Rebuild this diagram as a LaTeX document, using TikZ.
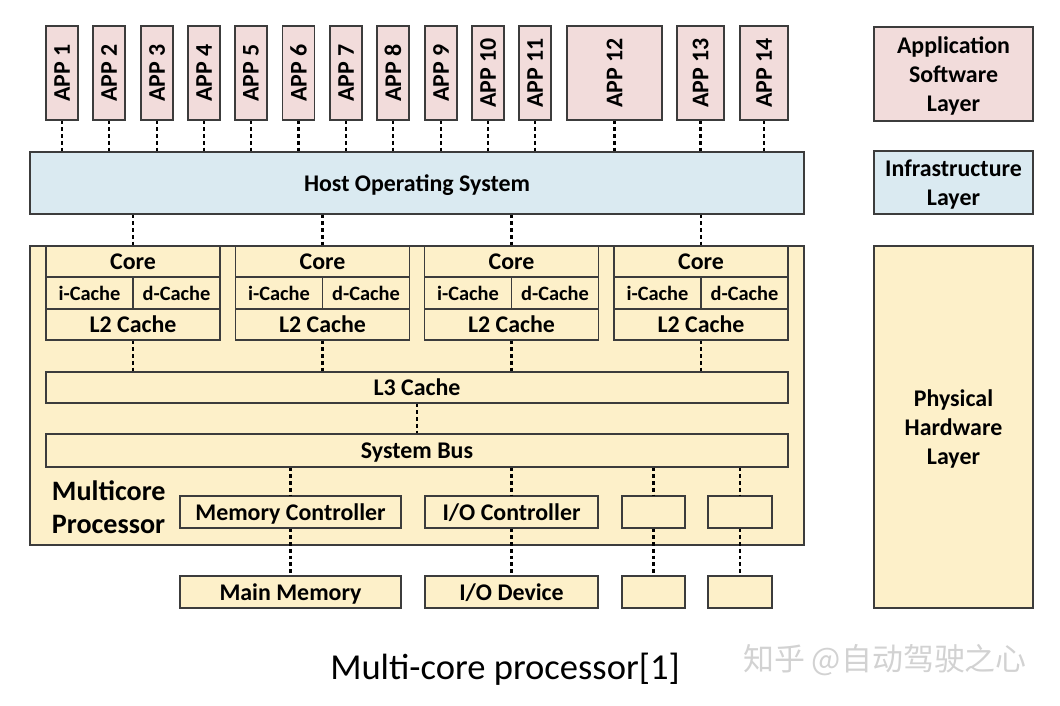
\documentclass[tikz,border=0pt]{standalone}
\usepackage{fontspec}
\usepackage{graphicx}
\setmainfont{Carlito}
\newfontfamily\cjk{Noto Sans CJK SC}
\usetikzlibrary{positioning,calc}
\definecolor{appcol} {RGB}{242,220,219}
\definecolor{oscol}  {RGB}{218,234,241}
\definecolor{hwcol}  {RGB}{253,240,201}
\definecolor{edgecol}{RGB}{60,60,60}

\begin{document}
\begin{tikzpicture}[x=0.025cm,y=-0.025cm,
  box/.style ={rectangle,draw=edgecol,line width=0.9pt,inner sep=0pt,align=center,
               text depth=0pt,font=\bfseries\fontsize{17}{20.6}\selectfont},
  napp/.style={box,fill=appcol,minimum width=#1,minimum height=2.35cm},
  napp/.default=0.8cm,
  nos/.style ={box,fill=oscol},
  nhw/.style ={box,fill=hwcol},
  nlay/.style={box,minimum width=3.975cm},
  ncore/.style={nhw,minimum width=4.35cm,minimum height=0.775cm},
  ncache/.style={nhw,minimum width=2.175cm,minimum height=0.8cm,
               font=\bfseries\fontsize{14.5}{17}\selectfont},
  nwide/.style={nhw,minimum width=18.55cm},
  nio/.style ={nhw,minimum height=0.8cm},
  conn/.style={black,line width=1.6pt,dash pattern=on 2.6pt off 2.2pt}
]
\useasboundingbox (0,0) rectangle (1060,705);
% application layer
\foreach \i/\px in {1/62,2/109,3/157,4/204,5/251,6/298.5,7/346,8/393,9/441,10/488,11/535}
  \node[napp] (a\i) at (\px,73) {\rotatebox{90}{APP \i}};
\node[napp=2.375cm] (a12) at (614.5,73) {\rotatebox{90}{APP 12}};
\node[napp=1.175cm] (a13) at (700.5,73) {\rotatebox{90}{APP 13}};
\node[napp=1.2cm]   (a14) at (764,73)   {\rotatebox{90}{APP 14}};
% host os
\node[nos,minimum width=19.35cm,minimum height=1.55cm] (host) at (417,183) {Host Operating System};
\foreach \i in {1,...,14}
  \draw[conn] (a\i.south) -- (a\i.south |- host.north);
% processor
\node[nhw,minimum width=19.35cm,minimum height=7.475cm] (proc) at (417,395.5) {};
\foreach \k/\px in {1/133,2/322.5,3/511.5,4/701}{
  \node[ncore]  (core\k) at (\px,261.5) {Core};
  \node[ncache] (ic\k)   at (\px-43.5,293) {i-Cache};
  \node[ncache] (dc\k)   at (\px+43.5,293) {d-Cache};
  \node[ncore]  (l2\k)   at (\px,324.5) {L2 Cache};
}
\node[nwide,minimum height=0.775cm] (l3)  at (417,387.5) {L3 Cache};
\node[nwide,minimum height=0.825cm] (bus) at (417,450.5) {System Bus};
\foreach \k in {1,...,4}{
  \draw[conn] (core\k.north |- host.south) -- (core\k.north);
  \draw[conn] (l2\k.south) -- (l2\k.south |- l3.north);
}
\draw[conn] (l3.south) -- (bus.north);
\node[anchor=west,align=left,font=\bfseries\fontsize{20}{23.5}\selectfont] (mcp) at (47,507)
  {Multicore\\Processor};
\node[nio,minimum width=5.525cm] (memc) at (290.5,512) {Memory Controller};
\node[nio,minimum width=4.325cm] (ioc)  at (511.5,512) {I/O Controller};
\node[nio,minimum width=1.575cm] (x1)   at (653.5,512) {};
\node[nio,minimum width=1.6cm]   (x2)   at (740,512)   {};
\node[nio,minimum width=5.525cm] (mem)  at (290.5,592) {Main Memory};
\node[nio,minimum width=4.325cm] (iod)  at (511.5,592) {I/O Device};
\node[nio,minimum width=1.575cm] (y1)   at (653.5,592) {};
\node[nio,minimum width=1.6cm]   (y2)   at (740,592)   {};
\foreach \s/\d in {memc/mem,ioc/iod,x1/y1,x2/y2}{
  \draw[conn] (\s.north |- bus.south) -- (\s.north);
  \draw[conn] (\s.south) -- (\d.north);
}
% layer legend
\node[nlay,fill=appcol,minimum height=2.35cm]  (lapp) at (953.5,74)    {Application\\Software\\Layer};
\node[nlay,fill=oscol,minimum height=1.575cm]  (linf) at (953.5,182.5) {Infrastructure\\Layer};
\node[nlay,fill=hwcol,minimum height=9.05cm]   (lphy) at (953.5,427)   {Physical\\Hardware\\Layer};
% caption
\node[font=\fontsize{26}{30}\selectfont] (cap) at (505,669) {Multi-core processor[1]};
\node[font=\cjk\fontsize{22}{26}\selectfont,text=gray!35] (wm) at (885,660) {知乎 @自动驾驶之心};
\end{tikzpicture}
\end{document}
